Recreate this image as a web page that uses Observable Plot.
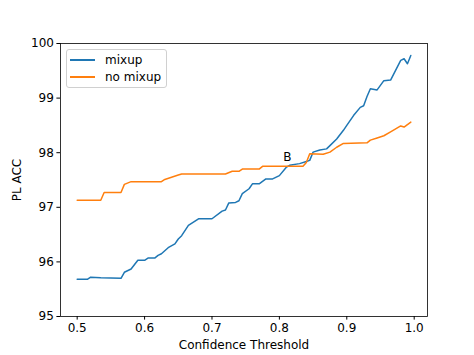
<!DOCTYPE html>
<html>
<head>
<meta charset="utf-8">
<script src="https://cdn.jsdelivr.net/npm/d3@7"></script>
<script src="https://cdn.jsdelivr.net/npm/@observablehq/plot@0.6"></script>
<style>
  html, body { margin: 0; padding: 0; background: #fff; }
  #wrap { position: relative; width: 474px; height: 355px; font-family: "DejaVu Sans", sans-serif; }
  #legend { position: absolute; left: 66px; top: 49px; width: 101px; height: 39px; box-sizing: border-box;
    border: 1px solid #d0d0d0; border-radius: 3px; background: rgba(255,255,255,0.8); font-size: 12px; color: #000; }
  .item { position: absolute; left: 0; height: 14px; }
  .swatch { position: absolute; left: 3px; width: 25px; height: 0; border-top: 2px solid; }
  .lab { position: absolute; left: 38px; white-space: nowrap; line-height: 14px; }
</style>
</head>
<body>
<div id="wrap"></div>
<script>
// Series names and colours
const seriesNames = ["mixup", "no mixup"];
const seriesColors = ["#1f77b4", "#ff7f0e"];

// mixup: confidence threshold vs PL ACC
const mixupX = [0.50, 0.515, 0.52, 0.535, 0.565, 0.57, 0.58, 0.59, 0.60, 0.605, 0.615, 0.62, 0.625, 0.635, 0.645,
  0.65, 0.655, 0.665, 0.68, 0.70, 0.715, 0.72, 0.725, 0.735, 0.74, 0.745, 0.755, 0.76, 0.77, 0.78, 0.79, 0.80,
  0.81, 0.815, 0.83, 0.84, 0.845, 0.85, 0.86, 0.87, 0.875, 0.885, 0.895, 0.90, 0.91, 0.92, 0.925, 0.93, 0.935,
  0.945, 0.955, 0.965, 0.98, 0.985, 0.99, 0.995];
const mixupY = [95.68, 95.68, 95.72, 95.71, 95.70, 95.81, 95.87, 96.03, 96.03, 96.07, 96.07, 96.12, 96.15, 96.26, 96.33,
  96.42, 96.48, 96.67, 96.79, 96.79, 96.93, 96.95, 97.08, 97.09, 97.12, 97.25, 97.34, 97.43, 97.43, 97.52, 97.52, 97.58,
  97.73, 97.77, 97.80, 97.84, 97.86, 98.01, 98.05, 98.07, 98.13, 98.25, 98.41, 98.50, 98.68, 98.83, 98.86, 99.03, 99.17,
  99.15, 99.32, 99.33, 99.69, 99.72, 99.63, 99.78];

// no mixup
const noMixupX = [0.50, 0.535, 0.54, 0.565, 0.57, 0.58, 0.625, 0.63, 0.64, 0.65, 0.655, 0.72, 0.73, 0.74, 0.745,
  0.77, 0.775, 0.835, 0.84, 0.845, 0.865, 0.875, 0.885, 0.895, 0.93, 0.935, 0.945, 0.955, 0.965, 0.98, 0.985, 0.995];
const noMixupY = [97.13, 97.13, 97.27, 97.27, 97.42, 97.47, 97.47, 97.51, 97.55, 97.59, 97.61, 97.61, 97.66, 97.66, 97.70,
  97.70, 97.75, 97.75, 97.82, 97.98, 97.97, 98.01, 98.10, 98.17, 98.18, 98.23, 98.27, 98.31, 98.38, 98.49, 98.47, 98.56];

// ticks
const xTicks = [0.5, 0.6, 0.7, 0.8, 0.9, 1.0];
const yTicks = [95, 96, 97, 98, 99, 100];

// annotation
const annotations = [{x: 0.812, y: 97.91, text: "B"}];

const rows = [
  ...mixupX.map((x, i) => ({series: seriesNames[0], x, y: mixupY[i]})),
  ...noMixupX.map((x, i) => ({series: seriesNames[1], x, y: noMixupY[i]}))
];

const chart = Plot.plot({
  width: 474,
  height: 355,
  marginLeft: 60,
  marginRight: 47,
  marginTop: 43,
  marginBottom: 39,
  style: {fontFamily: "DejaVu Sans, sans-serif", fontSize: "12px", color: "#000", background: "#fff"},
  x: {domain: [0.47525, 1.01975]},
  y: {domain: [95, 100]},
  color: {domain: seriesNames, range: seriesColors},
  marks: [
    Plot.line(rows, {x: "x", y: "y", z: "series", stroke: "series", strokeWidth: 1.5}),
    Plot.text(annotations, {x: "x", y: "y", text: "text", fontSize: 12, fill: "#000"}),
    Plot.frame({stroke: "#000", strokeWidth: 0.8}),
    Plot.axisX({ticks: xTicks, tickFormat: d3.format(".1f"), tickSize: 3.6, tickPadding: 3, fontSize: 12,
      label: "Confidence Threshold", labelAnchor: "center", labelArrow: "none", labelOffset: 32}),
    Plot.axisY({ticks: yTicks, tickFormat: d3.format("d"), tickSize: 3.6, tickPadding: 3, fontSize: 12,
      label: "PL ACC", labelAnchor: "center", labelArrow: "none", labelOffset: 48})
  ]
});

const wrap = document.getElementById("wrap");
wrap.appendChild(chart);

// legend overlay
const legend = document.createElement("div");
legend.id = "legend";
seriesNames.forEach((name, i) => {
  const item = document.createElement("div");
  item.className = "item";
  item.style.top = (3 + i * 17) + "px";
  const sw = document.createElement("div");
  sw.className = "swatch";
  sw.style.top = "6px";
  sw.style.borderTopColor = seriesColors[i];
  const lab = document.createElement("div");
  lab.className = "lab";
  lab.style.top = "0px";
  lab.textContent = name;
  item.appendChild(sw);
  item.appendChild(lab);
  legend.appendChild(item);
});
wrap.appendChild(legend);
</script>
</body>
</html>
